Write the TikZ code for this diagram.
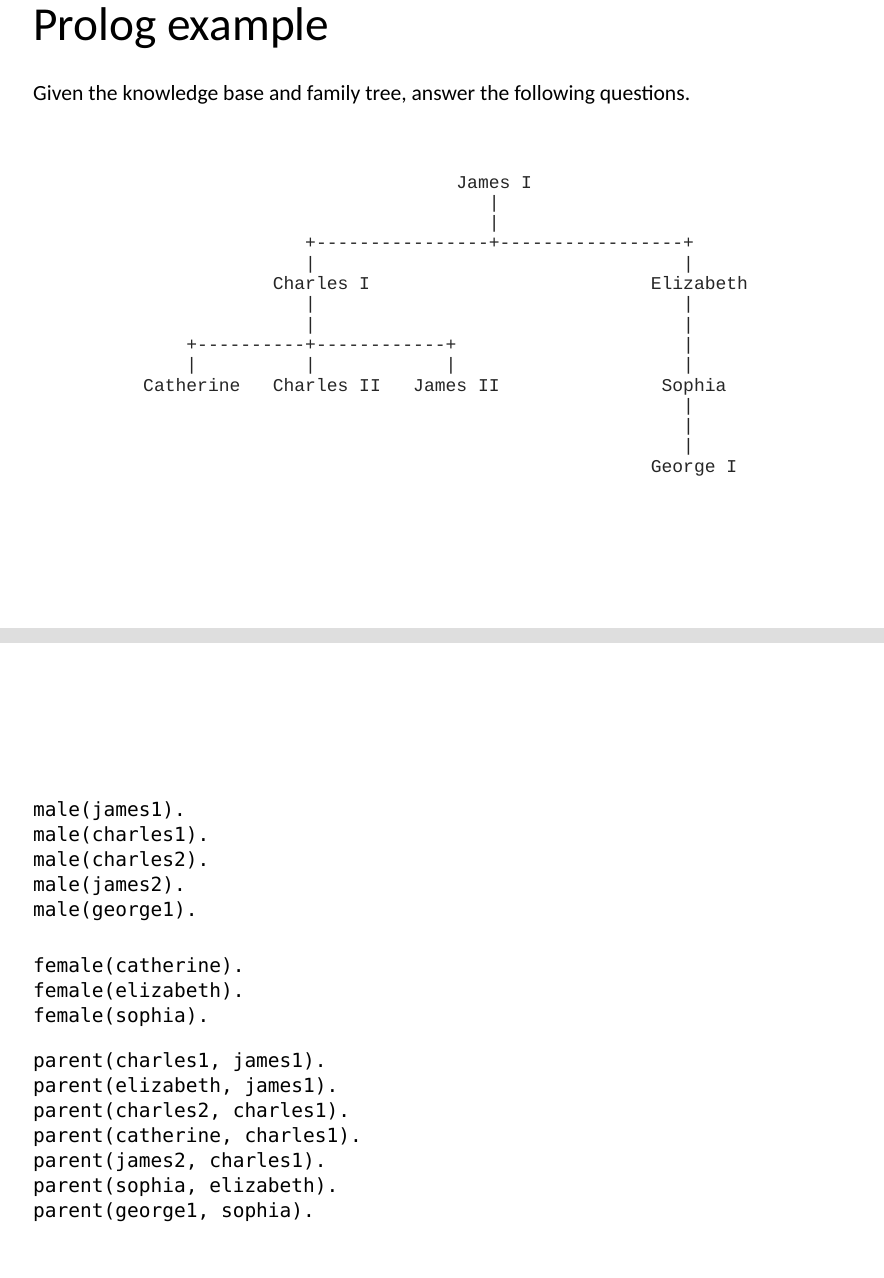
\documentclass[tikz,border=0pt]{standalone}
\usepackage{fontspec}
\setmainfont{Carlito}
\newfontfamily\treefont{Liberation Mono}
\newfontfamily\codefont{DejaVu Sans Mono}
\begin{document}
\begin{tikzpicture}[x=1pt,y=-1pt,
  tree/.style={anchor=base west,inner sep=0pt,font=\treefont\fontsize{18}{18}\selectfont,text=black!85},
  code/.style={anchor=base west,inner sep=0pt,font=\codefont\fontsize{19.5}{19.5}\selectfont,text=black}]
\useasboundingbox (0,0) rectangle (884,1278);
\fill[white] (0,0) rectangle (884,1278);
\node[anchor=base west,inner sep=0pt] (title) at (33,40) {\resizebox{296pt}{!}{Prolog example}};
\node[anchor=base west,inner sep=0pt] (sub) at (33,100) {\resizebox{657pt}{!}{Given the knowledge base and family tree, answer the following questions.}};
% ASCII tree: column c at x=143+10.8c, row r baseline at 188+20.3r
\def\cw{10.8}
\newcommand\tcell[4]{\node[tree] (#1) at ({143+\cw*#2},{188+20.3*#3}) {#4};}
\tcell{jamesI}{29}{0}{James I}
\tcell{b1}{32}{1}{|}
\tcell{b2}{32}{2}{|}
\tcell{topbar}{15}{3}{+----------------+-----------------+}
\tcell{b3}{15}{4}{|}
\tcell{b4}{50}{4}{|}
\tcell{charlesI}{12}{5}{Charles I}
\tcell{elizabeth}{47}{5}{Elizabeth}
\tcell{b5}{15}{6}{|}
\tcell{b6}{50}{6}{|}
\tcell{b7}{15}{7}{|}
\tcell{b8}{50}{7}{|}
\tcell{midbar}{4}{8}{+----------+------------+}
\tcell{b9}{50}{8}{|}
\tcell{b10}{4}{9}{|}
\tcell{b11}{15}{9}{|}
\tcell{b12}{28}{9}{|}
\tcell{b13}{50}{9}{|}
\tcell{catherine}{0}{10}{Catherine}
\tcell{charlesII}{12}{10}{Charles II}
\tcell{jamesII}{25}{10}{James II}
\tcell{sophia}{48}{10}{Sophia}
\tcell{b14}{50}{11}{|}
\tcell{b15}{50}{12}{|}
\tcell{b16}{50}{13}{|}
\tcell{georgeI}{47}{14}{George I}
% separator bar
\fill[black!13] (0,628) rectangle (884,643);
% code
\newcommand\codeln[3]{\node[code] (#1) at (33,#2) {#3};}
\codeln{m1}{816}{male(james1).}
\codeln{m2}{841}{male(charles1).}
\codeln{m3}{866}{male(charles2).}
\codeln{m4}{891}{male(james2).}
\codeln{m5}{916}{male(george1).}
\codeln{f1}{972}{female(catherine).}
\codeln{f2}{997}{female(elizabeth).}
\codeln{f3}{1022}{female(sophia).}
\codeln{p1}{1067}{parent(charles1, james1).}
\codeln{p2}{1092}{parent(elizabeth, james1).}
\codeln{p3}{1117}{parent(charles2, charles1).}
\codeln{p4}{1142}{parent(catherine, charles1).}
\codeln{p5}{1167}{parent(james2, charles1).}
\codeln{p6}{1192}{parent(sophia, elizabeth).}
\codeln{p7}{1217}{parent(george1, sophia).}
\end{tikzpicture}
\end{document}
